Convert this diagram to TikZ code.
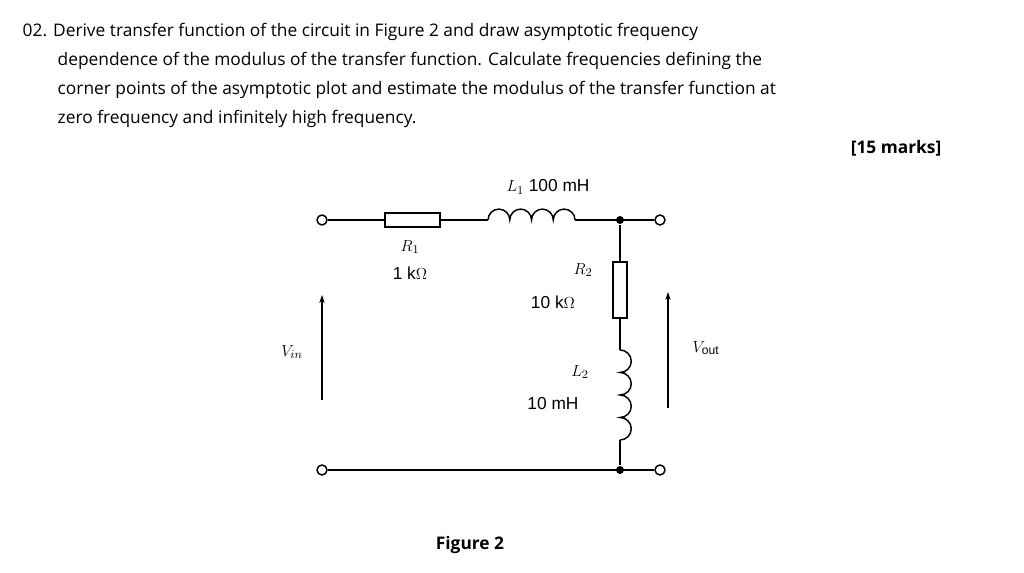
\documentclass[tikz,border=0pt]{standalone}
\usetikzlibrary{arrows.meta}
\usepackage{fontspec}
\setmainfont{Liberation Sans}
\newfontfamily\headf{Open Sans}
\begin{document}
\begin{tikzpicture}[x=0.75pt,y=0.75pt,line width=1.1pt,
 term/.style={circle,draw,fill=white,inner sep=0,minimum size=7.5pt},
 dot/.style={circle,fill=black,inner sep=0,minimum size=6pt},
 head/.style={anchor=base west,inner sep=0,font=\headf\fontsize{13}{15}\selectfont},
 lab/.style={inner sep=0,font=\fontsize{13}{15}\selectfont}]
\useasboundingbox (0,0) rectangle (1024,573);
\node[head] (t1) at (22,536) {02. Derive transfer function of the circuit in Figure 2 and draw asymptotic frequency};
\node[head] (t2) at (57,507) {dependence of the modulus of the transfer function. Calculate frequencies defining the};
\node[head] (t3) at (57,478) {corner points of the asymptotic plot and estimate the modulus of the transfer function at};
\node[head] (t4) at (57,449) {zero frequency and infinitely high frequency.};
\node[head,anchor=base east,font=\headf\bfseries\fontsize{13}{15}\selectfont] (mk) at (942,419) {[15 marks]};
% terminals
\node[term] (a) at (322,353) {};
\node[term] (b) at (660,353) {};
\node[term] (c) at (322,103) {};
\node[term] (d) at (660,103) {};
\node[dot] (n1) at (620,353) {};
\node[dot] (n2) at (620,103) {};
\node[draw,rectangle,inner sep=0,minimum width=41.25pt,minimum height=10.5pt] (r1) at (412.5,353) {};
\node[draw,rectangle,inner sep=0,minimum width=10.5pt,minimum height=42pt] (r2) at (620,283) {};
\coordinate (l1a) at (488,353);
\coordinate (l1b) at (575,353);
\coordinate (l2a) at (620,223);
\coordinate (l2b) at (620,133);
\draw (a) -- (r1.west);
\draw (r1.east) -- (l1a);
\draw (l1a) arc (180:0:10.875) arc (180:0:10.875) arc (180:0:10.875) arc (180:0:10.875);
\draw (l1b) -- (b);
\draw (n1) -- (r2.north);
\draw (r2.south) -- (l2a);
\draw (l2a) arc (90:-90:11.25) arc (90:-90:11.25) arc (90:-90:11.25) arc (90:-90:11.25);
\draw (l2b) -- (n2);
\draw (c) -- (d);
% labels
\node[lab] (L1) at (548,386) {$L_1$ 100 mH};
\node[lab] (R1) at (410,326) {$R_1$};
\node[lab] (R1v) at (410,300) {1 k$\Omega$};
\node[lab] (R2) at (583,303) {$R_2$};
\node[lab] (R2v) at (553,271) {10 k$\Omega$};
\node[lab] (L2) at (580,201) {$L_2$};
\node[lab] (L2v) at (553,169) {10 mH};
\node[lab] (vin) at (292,221) {$V_{in}$};
\node[lab] (vout) at (706,225) {$V_\mathrm{out}$};
\coordinate (v1) at (322,173); \coordinate (v2) at (322,278);
\coordinate (v3) at (668,165); \coordinate (v4) at (668,281);
\draw[-{Stealth[length=6pt,width=4pt]}] (v1) -- (v2);
\draw[-{Stealth[length=6pt,width=4pt]}] (v3) -- (v4);
\node[lab,font=\headf\bfseries\fontsize{13}{15}\selectfont] (fig) at (470,28) {Figure 2};
\end{tikzpicture}
\end{document}
